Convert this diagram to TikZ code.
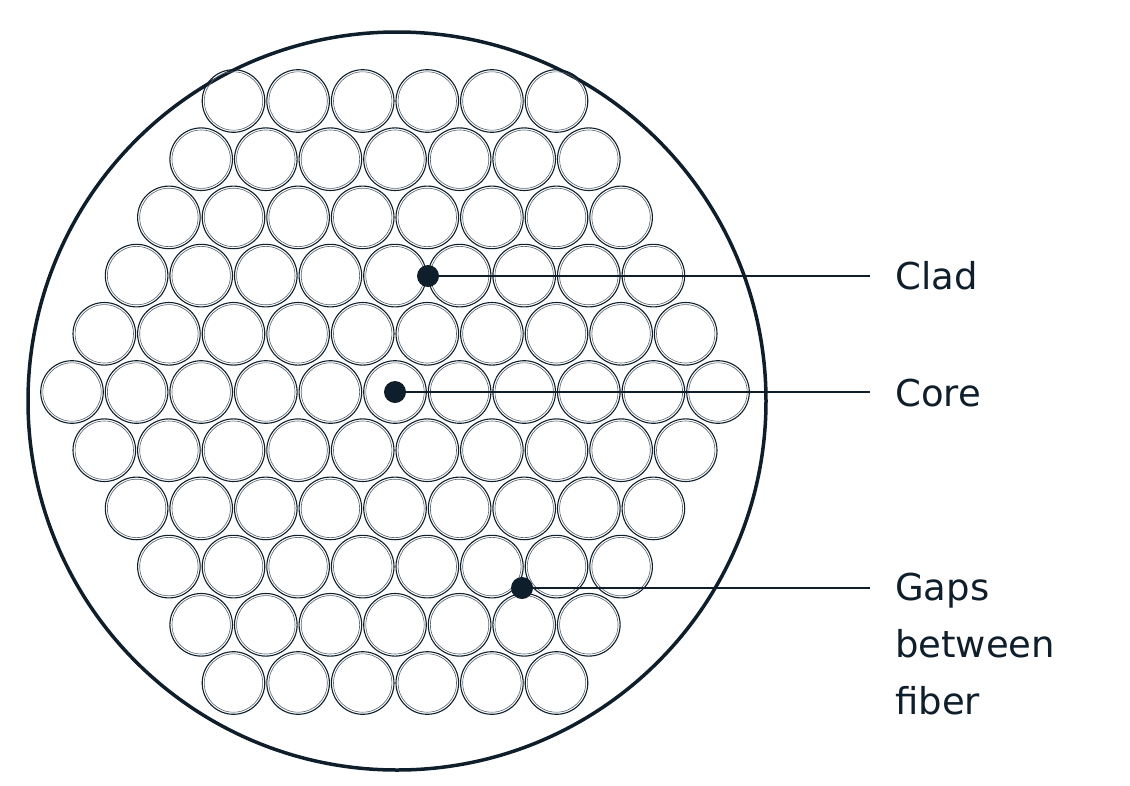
\documentclass[tikz,border=0pt]{standalone}
\usepackage{fontspec}
\setmainfont{DejaVu Sans}
\definecolor{ink}{HTML}{0F1E2B}
\begin{document}
\begin{tikzpicture}[x=1pt,y=-1pt,
  fiberout/.style={draw=ink,line width=1.1pt},
  fiberin/.style={draw=ink!70,line width=0.6pt},
  dotmark/.style={circle,fill=ink,inner sep=0pt,minimum size=22pt},
  lead/.style={draw=ink,line width=1.3pt},
  lbl/.style={anchor=west,text=ink,font=\fontsize{37}{57}\selectfont,align=left,inner sep=0pt}]
\useasboundingbox (0,0) rectangle (1130,785);
\node[circle,draw=ink,line width=3.5pt,minimum size=738pt,inner sep=0pt] (outer) at (397,401) {};
\foreach \k in {-5,...,5}{
  \pgfmathtruncatemacro{\n}{11-abs(\k)}
  \pgfmathtruncatemacro{\m}{\n-1}
  \foreach \i in {0,...,\m}{
    \pgfmathsetmacro{\xx}{395+(\i-(\n-1)/2)*64.6}
    \pgfmathsetmacro{\yy}{392+\k*58.2}
    \draw[fiberout] (\xx,\yy) circle (31.3);
    \draw[fiberin] (\xx,\yy) circle (29.2);
  }
}
\node[dotmark] (dclad) at (428,276) {};
\node[dotmark] (dcore) at (395,392) {};
\node[dotmark] (dgap) at (522,588) {};
\coordinate (eclad) at (870,276);
\coordinate (ecore) at (870,392);
\coordinate (egap) at (870,588);
\draw[lead] (dclad.center) -- (eclad);
\draw[lead] (dcore.center) -- (ecore);
\draw[lead] (dgap.center) -- (egap);
\node[lbl] (tclad) at (895,276) {Clad};
\node[lbl] (tcore) at (895,393) {Core};
\node[lbl,anchor=north west] (tgap) at (895,573) {Gaps\\between\\fiber};
\end{tikzpicture}
\end{document}
